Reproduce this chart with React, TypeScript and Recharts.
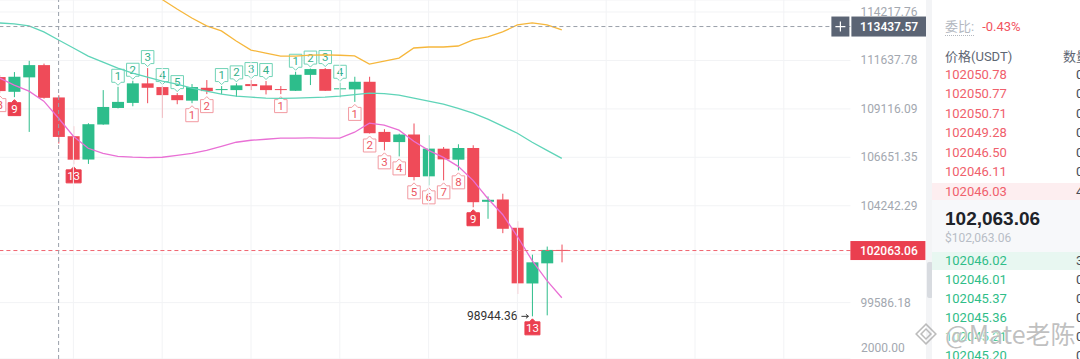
import { Bar, CartesianGrid, ComposedChart, Line, ReferenceLine, XAxis, YAxis } from 'recharts';

// candles, oldest first (only the visible part of the chart)
const opens = [110766, 109998, 110750, 111392, 109706, 107718, 106540, 108315, 109163, 109424, 110437, 110244, 109826, 109539, 110207, 110113, 110087, 110400, 110332, 110139, 110051, 110880, 111184, 110165, 110124, 110520, 107937, 107420, 107805, 105699, 107085, 106532, 107121, 104437, 104551, 103165, 100490, 101449, 102093];
const highs = [110870, 111027, 111617, 111471, 109826, 108228, 108381, 110087, 110259, 110573, 111236, 110296, 109930, 110400, 110609, 110296, 110437, 110609, 110557, 110296, 111043, 111210, 111236, 110468, 110782, 110782, 108075, 107845, 108366, 107769, 107172, 107310, 107259, 104701, 104836, 103487, 101864, 102254, 102351];
const lows = [109930, 109722, 107937, 109643, 107345, 106297, 106320, 108300, 109140, 109252, 109408, 108652, 109356, 109408, 109878, 109878, 109737, 110087, 109863, 109878, 110040, 110348, 110040, 109706, 109476, 107856, 107003, 106697, 105499, 105250, 105499, 105998, 104169, 103604, 102902, 99991, 98944.36, 98990, 101497];
const closes = [110035, 110782, 111392, 109685, 107682, 106532, 108330, 109215, 109476, 110437, 110207, 109826, 109565, 110244, 110035, 110139, 110332, 110296, 110087, 110113, 110886, 111184, 110051, 110180, 110520, 107871, 107427, 107805, 105664, 107090, 106547, 107121, 104417, 104536, 103116, 100496, 101497, 102093, 102063.06];

// BOLL bands
const bollUpper = [null, null, null, null, null, null, 117535, 117107, 116572, 116037, 115448, 114890, 114378, 113897, 113470, 113203, 112668, 112188, 112027, 111867, 111867, 111921, 111935, 111910, 111880, 111445, 111601, 111761, 112295, 112348, 112348, 112401, 112722, 112882, 113149, 113523, 113630, 113523, 113256];
const bollMid = [113630, 113577, 113470, 113149, 112722, 112295, 111867, 111549, 111236, 110975, 110766, 110557, 110400, 110191, 110035, 109878, 109774, 109722, 109670, 109660, 109670, 109696, 109722, 109774, 109852, 109930, 109904, 109826, 109670, 109513, 109356, 109147, 108892, 108585, 108228, 107871, 107412, 107003, 106597];
const bollLower = [110714, 110348, 110035, 109513, 108636, 107718, 107106, 106850, 106697, 106660, 106640, 106655, 106748, 106846, 107003, 107208, 107412, 107514, 107565, 107620, 107625, 107630, 107625, 107620, 107922, 108381, 108279, 108024, 107463, 107003, 106646, 106197, 105499, 104601, 103813, 102741, 101578, 100625, 99815];

// TD sequential counts
const tdAbove: Record<number, string> = { 8: '1', 9: '2', 10: '3', 11: '4', 12: '5', 15: '1', 16: '2', 17: '3', 18: '4', 20: '1', 21: '2', 22: '3', 23: '4' };
const tdBelow: Record<number, string> = { 0: '8', 1: '9', 5: '13', 13: '1', 14: '2', 19: '1', 24: '1', 25: '2', 26: '3', 27: '4', 28: '5', 29: '6', 30: '7', 31: '8', 32: '9', 36: '13' };

const priceTicks = [114217.76, 111637.78, 109116.09, 106651.35, 104242.29, 101887.77, 99586.18];
const hiddenTick = 101887.77;
const priceDomain = [96973, 114866];
const lastPrice = 102063.06;
const crossPrice = 113437.57;
const crossIndex = 4;
const lowMarkIndex = 36;
const gridCats = [5, 11, 17, 23, 29, 35, 41, 47, 53];
const slotCount = 58;
const volumeLabel = '2000.00';

// order book
const asks = [102050.78, 102050.77, 102050.71, 102049.28, 102046.5, 102046.11, 102046.03];
const askQty = ['0.00012', '0.00060', '0.00010', '0.00230', '0.00500', '0.00012', '4.21640'];
const bids = [102046.02, 102046.01, 102045.37, 102045.36, 102045.21, 102045.2];
const bidQty = ['3.18930', '0.00040', '0.00210', '0.00120', '0.00300', '0.00050'];

const UP = '#2dbd8b';
const DOWN = '#ef4b59';
const FONT = "Roboto, 'Noto Sans CJK SC', sans-serif";

const rows = Array.from({ length: slotCount }, (_, i) => ({
  i,
  open: opens[i] ?? null,
  high: highs[i] ?? null,
  low: lows[i] ?? null,
  close: closes[i] ?? null,
  upper: bollUpper[i] ?? null,
  mid: bollMid[i] ?? null,
  lower: bollLower[i] ?? null,
}));

function TdTag({ cx, tip, text, above }: { cx: number; tip: number; text: string; above: boolean }) {
  const w = text.length > 1 ? 15 : 12.5;
  const h = 13;
  const l = cx - w / 2;
  const r = cx + w / 2;
  const filled = !above && (text === '9' || text === '13');
  const stroke = above ? '#6fd3b6' : filled ? '#eb3f4f' : '#f29aa1';
  const fill = filled ? '#eb3f4f' : '#fff';
  const color = above ? '#35b08a' : filled ? '#fff' : '#ec5764';
  let d: string;
  let cy: number;
  if (above) {
    const b = tip - 3;
    const t = b - h;
    d = `M${l} ${t}H${r}V${b}H${cx + 3}L${cx} ${tip}L${cx - 3} ${b}H${l}Z`;
    cy = (t + b) / 2;
  } else {
    const t = tip + 3;
    const b = t + h;
    d = `M${l} ${t}H${cx - 3}L${cx} ${tip}L${cx + 3} ${t}H${r}V${b}H${l}Z`;
    cy = (t + b) / 2;
  }
  return (
    <g>
      <path d={d} fill={fill} stroke={stroke} strokeWidth={1} />
      <text x={cx} y={cy} dy={4} textAnchor="middle" fontSize={11.5} fill={color} fontFamily={FONT}>
        {text}
      </text>
    </g>
  );
}

function Candle(props: any) {
  const { x, y, width, height, payload } = props;
  if (!payload || payload.open == null) return <g />;
  const { open, high, low, close, i } = payload;
  const top = Math.min(y, y + height);
  const span = Math.abs(height);
  const lh = Math.log(high);
  const range = lh - Math.log(low) || 1;
  const toY = (v: number) => top + (span * (lh - Math.log(v))) / range;
  const color = close >= open ? UP : DOWN;
  const cx = x + width / 2;
  const bodyTop = toY(Math.max(open, close));
  const bodyH = Math.max(1, toY(Math.min(open, close)) - bodyTop);
  const yLow = top + span;
  return (
    <g>
      <line x1={cx} x2={cx} y1={top} y2={yLow} stroke={color} strokeWidth={1} />
      <rect x={x} y={bodyTop} width={width} height={bodyH} fill={color} />
      {tdAbove[i] && <TdTag cx={cx} tip={top - 1.5} text={tdAbove[i]} above />}
      {tdBelow[i] && <TdTag cx={cx} tip={yLow + 2.5} text={tdBelow[i]} above={false} />}
      {i === lowMarkIndex && (
        <g>
          <text x={cx - 15} y={yLow} dy={4} textAnchor="end" fontSize={12} fill="#333" fontFamily={FONT}>
            {low.toFixed(2)}
          </text>
          <path d={`M${cx - 11} ${yLow}H${cx - 4}M${cx - 6.5} ${yLow - 2}L${cx - 4} ${yLow}L${cx - 6.5} ${yLow + 2}`} stroke="#333" strokeWidth={1} fill="none" />
        </g>
      )}
    </g>
  );
}

const candleRange = (d: any) => (d.open == null ? null : [d.low, d.high]);

function PriceTick(props: any) {
  const { x, y, payload } = props;
  if (payload.value === hiddenTick) return null;
  return (
    <text x={x} y={y} dy={4} textAnchor="start" fontSize={12} fill="#a3a8b0" fontFamily={FONT}>
      {Number(payload.value).toFixed(2)}
    </text>
  );
}

function LastTag(props: any) {
  const vb = props.viewBox;
  const right = vb.x + vb.width;
  return (
    <g>
      <rect x={right} y={vb.y - 9.5} width={75} height={19} fill="#ea3f4f" />
      <text x={right + 9.5} y={vb.y} dy={4.5} fontSize={12} fontWeight={500} fill="#fff" fontFamily={FONT}>
        {lastPrice.toFixed(2)}
      </text>
    </g>
  );
}

function CrossTag(props: any) {
  const vb = props.viewBox;
  const right = vb.x + vb.width;
  const y = vb.y;
  return (
    <g>
      <rect x={right - 19} y={y - 10} width={18} height={20} fill="#5b6474" />
      <path d={`M${right - 15} ${y}H${right - 5}M${right - 10} ${y - 5}V${y + 5}`} stroke="#fff" strokeWidth={1.2} />
      <rect x={right + 1} y={y - 10} width={77} height={20} fill="#5b6474" />
      <text x={right + 9.5} y={y} dy={4.5} fontSize={12} fontWeight={600} fill="#fff" fontFamily={FONT}>
        {crossPrice.toFixed(2)}
      </text>
    </g>
  );
}

function Row({ x, y, color, size = 13, weight = 400, family, children }: any) {
  return (
    <div style={{ position: 'absolute', left: x, top: y - 10, height: 20, lineHeight: '20px', color, fontSize: size, fontWeight: weight, fontFamily: family, whiteSpace: 'nowrap' }}>
      {children}
    </div>
  );
}

function OrderBook() {
  return (
    <div style={{ position: 'absolute', left: 932, top: 0, width: 148, height: 359, background: '#fff', overflow: 'hidden', fontFamily: FONT }}>
      <div style={{ position: 'absolute', left: 0, top: 182.5, width: 148, height: 17, background: '#fdeef0' }} />
      <div style={{ position: 'absolute', left: 0, top: 200, width: 148, height: 52, background: '#f7f8fa' }} />
      <div style={{ position: 'absolute', left: 0, top: 252, width: 148, height: 18, background: '#e8f7f1' }} />
      <Row x={13} y={27} color="#b3b8bf">
        <span style={{ borderBottom: '1px dotted #b3b8bf', paddingBottom: 1 }}>委比:</span>
        <span style={{ color: '#f2545f', marginLeft: 8 }}>-0.43%</span>
      </Row>
      <Row x={13} y={57} color="#5e6673">价格(USDT)</Row>
      <Row x={131} y={57} color="#5e6673">数量(BTC)</Row>
      {asks.map((p, k) => (
        <div key={'a' + k}>
          <Row x={13} y={75 + k * 19.45} color="#f0606c">{p.toFixed(2)}</Row>
          <Row x={144} y={75 + k * 19.45} color="#474d57">{askQty[k]}</Row>
        </div>
      ))}
      <Row x={13} y={219} color="#1e2329" size={19} weight="bold" family="'Liberation Sans', Arial, sans-serif">
        {lastPrice.toLocaleString('en-US', { minimumFractionDigits: 2 })}
      </Row>
      <Row x={13} y={238} color="#b7bdc6" size={12}>
        ${lastPrice.toLocaleString('en-US', { minimumFractionDigits: 2 })}
      </Row>
      {bids.map((p, k) => (
        <div key={'b' + k}>
          <Row x={13} y={260.7 + k * 19.15} color="#2fbd88">{p.toFixed(2)}</Row>
          <Row x={144} y={260.7 + k * 19.15} color="#474d57">{bidQty[k]}</Row>
        </div>
      ))}
      <div style={{ position: 'absolute', left: 13, top: 316, fontSize: 25, lineHeight: '34px', color: 'rgba(150,150,150,0.6)', fontFamily: "'Noto Sans CJK SC', sans-serif", textShadow: '0 0 2px #fff, 0 0 2px #fff', whiteSpace: 'nowrap' }}>
        @Mate老陈
      </div>
    </div>
  );
}

export default function App() {
  return (
    <div style={{ position: 'fixed', left: 0, top: 0, width: 1080, height: 359, overflow: 'hidden', background: '#fff', fontFamily: FONT }}>
      <div style={{ position: 'absolute', left: -7.7, top: 0 }}>
        <ComposedChart width={938.4} height={359} data={rows} margin={{ top: 0, right: 0, bottom: 0, left: 0 }} barCategoryGap="11%">
          <CartesianGrid vertical={false} stroke="#f2f3f5" />
          {gridCats.map((c) => (
            <ReferenceLine key={c} x={c} stroke="#f2f3f5" />
          ))}
          <XAxis dataKey="i" hide />
          <YAxis
            orientation="right"
            width={80}
            type="number"
            scale="log"
            domain={priceDomain}
            allowDataOverflow
            ticks={priceTicks}
            interval={0}
            tick={PriceTick}
            axisLine={false}
            tickLine={false}
            tickSize={0}
            tickMargin={10}
          />
          <Bar dataKey={candleRange} shape={Candle} isAnimationActive={false} />
          <Line dataKey="upper" stroke="#f6b73c" strokeWidth={1.3} dot={false} activeDot={false} isAnimationActive={false} />
          <Line dataKey="mid" stroke="#5fd4b8" strokeWidth={1.3} dot={false} activeDot={false} isAnimationActive={false} />
          <Line dataKey="lower" stroke="#e970d5" strokeWidth={1.3} dot={false} activeDot={false} isAnimationActive={false} />
          <ReferenceLine y={lastPrice} stroke="#f0646f" strokeDasharray="4 3" label={(p: any) => <LastTag {...p} />} />
          <ReferenceLine x={crossIndex} stroke="#9aa0aa" strokeDasharray="4 3" />
          <ReferenceLine y={crossPrice} stroke="#9aa0aa" strokeDasharray="4 3" label={(p: any) => <CrossTag {...p} />} />
        </ComposedChart>
      </div>
      <div style={{ position: 'absolute', left: 861, top: 338, height: 20, lineHeight: '20px', fontSize: 12, color: '#a3a8b0' }}>{volumeLabel}</div>
      <div style={{ position: 'absolute', left: 926, top: 0, width: 6, height: 359, background: '#f3f4f6' }} />
      <div style={{ position: 'absolute', left: 927, top: 262, width: 6, height: 36, background: '#d8dbe0', borderRadius: 2 }} />
      <OrderBook />
      <svg style={{ position: 'absolute', left: 910, top: 318 }} width={32} height={32}>
        <rect x={9} y={9} width={14} height={14} transform="rotate(45 16 16)" fill="none" stroke="rgba(160,160,160,0.7)" strokeWidth={1.5} />
        <rect x={12.5} y={12.5} width={7} height={7} transform="rotate(45 16 16)" fill="none" stroke="rgba(160,160,160,0.7)" strokeWidth={1.5} />
      </svg>
    </div>
  );
}
